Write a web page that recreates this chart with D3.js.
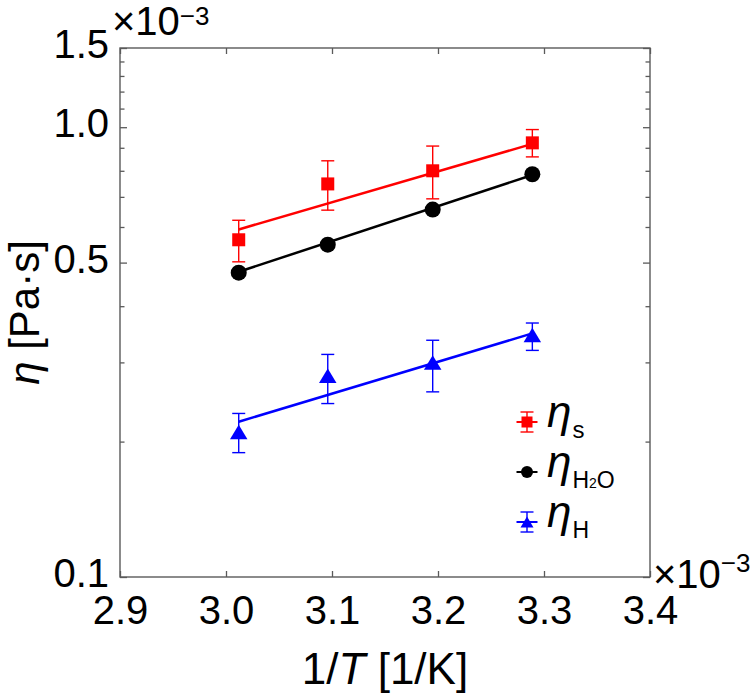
<!DOCTYPE html>
<html><head><meta charset="utf-8">
<script src="https://cdn.jsdelivr.net/npm/d3@7"></script>
<style>body{margin:0;background:#fff} text{font-family:"Liberation Sans",Arial,sans-serif;fill:#000}</style>
</head><body><svg id="c" width="750" height="694"></svg>
<script>
// data (x in 1e-3 1/K, eta in 1e-3 Pa·s)
const invT = [3.012, 3.096, 3.195, 3.289];
const etaS = [0.562, 0.748, 0.800, 0.923];
const etaSLow = [0.502, 0.654, 0.693, 0.859];
const etaSHigh = [0.621, 0.842, 0.908, 0.988];
const etaH2O = [0.475, 0.548, 0.656, 0.786];
const etaH = [0.210, 0.280, 0.300, 0.345];
const etaHLow = [0.189, 0.243, 0.258, 0.319];
const etaHHigh = [0.231, 0.3125, 0.336, 0.367];
const fitX = [3.012, 3.289];
const fitS = [0.5925, 0.918];
const fitH2O = [0.477, 0.783];
const fitH = [0.2214, 0.348];
const xTicks = [2.9, 3.0, 3.1, 3.2, 3.3, 3.4];
const yMajor = [0.1, 0.5, 1.0, 1.5];
const yMinor = [0.2, 0.3, 0.4, 0.6, 0.7, 0.8, 0.9, 1.1, 1.2, 1.3, 1.4];

const L = 120, R = 650, T = 48, B = 577;
const svg = d3.select("#c");
const x = d3.scaleLinear().domain([2.9, 3.4]).range([L, R]);
const y = d3.scaleLog().domain([0.1, 1.5]).range([B, T]);
const frameCol = "#5a5a5a";
const tickFont = 40;

// axes
function styleAxis(g) {
  g.select(".domain").remove();
  g.selectAll(".tick line").attr("stroke", frameCol).attr("stroke-width", 1.3);
  g.selectAll(".tick text").style("font-size", tickFont + "px").attr("fill", "#000");
}
svg.append("g").attr("transform", `translate(0,${B})`)
  .call(d3.axisBottom(x).tickValues(xTicks).tickSize(-6).tickPadding(18.5).tickFormat(d3.format(".1f")))
  .call(styleAxis);
svg.append("g").attr("transform", `translate(0,${T})`)
  .call(d3.axisTop(x).tickValues(xTicks).tickSize(-6).tickFormat(""))
  .call(styleAxis);
const yl = svg.append("g").attr("transform", `translate(${L},0)`)
  .call(d3.axisLeft(y).tickValues(yMajor).tickSize(-7).tickPadding(11).tickFormat(d3.format(".1f")))
  .call(styleAxis);
yl.selectAll(".tick text").attr("dy", "0.24em");
svg.append("g").attr("transform", `translate(${L},0)`)
  .call(d3.axisLeft(y).tickValues(yMinor).tickSize(-4.5).tickFormat(""))
  .call(styleAxis);
svg.append("g").attr("transform", `translate(${R},0)`)
  .call(d3.axisRight(y).tickValues(yMajor).tickSize(-7).tickFormat(""))
  .call(styleAxis);
svg.append("g").attr("transform", `translate(${R},0)`)
  .call(d3.axisRight(y).tickValues(yMinor).tickSize(-4.5).tickFormat(""))
  .call(styleAxis);

svg.append("rect").attr("x", L).attr("y", T).attr("width", R - L).attr("height", B - T)
  .attr("fill", "none").attr("stroke", frameCol).attr("stroke-width", 1.4);

// exponent labels
function expo(xp, yp, dy) {
  const t = svg.append("text").attr("x", xp).attr("y", yp).style("font-size", tickFont + "px");
  t.append("tspan").text("×10");
  t.append("tspan").attr("dy", dy).style("font-size", "26px").text("−3");
}
expo(112, 35, -10);
expo(653, 588, -16);

// axis titles
const xt = svg.append("text").attr("x", (L + R) / 2).attr("y", 684).attr("text-anchor", "middle").style("font-size", "44px");
xt.append("tspan").text("1/");
xt.append("tspan").style("font-style", "italic").text("T");
xt.append("tspan").text(" [1/K]");
const ytl = svg.append("text").attr("transform", `translate(39,${(T + B) / 2}) rotate(-90)`).attr("text-anchor", "middle").style("font-size", "42px");
ytl.append("tspan").style("font-style", "italic").text("η");
ytl.append("tspan").text(" [Pa·s]");

// fit lines
const line = d3.line().x(d => x(d[0])).y(d => y(d[1]));
const fits = [[fitS, "#ff0000"], [fitH2O, "#000000"], [fitH, "#0000ff"]];
fits.forEach(([f, c]) => {
  svg.append("path").attr("d", line(fitX.map((v, i) => [v, f[i]])))
    .attr("fill", "none").attr("stroke", c).attr("stroke-width", 2.5);
});

// error bars
function errBars(lo, hi, col, cap) {
  const g = svg.append("g").attr("stroke", col).attr("stroke-width", 1.4).attr("fill", "none");
  invT.forEach((v, i) => {
    const cx = x(v), y1 = y(lo[i]), y2 = y(hi[i]);
    g.append("line").attr("x1", cx).attr("x2", cx).attr("y1", y1).attr("y2", y2);
    g.append("line").attr("x1", cx - cap / 2).attr("x2", cx + cap / 2).attr("y1", y1).attr("y2", y1);
    g.append("line").attr("x1", cx - cap / 2).attr("x2", cx + cap / 2).attr("y1", y2).attr("y2", y2);
  });
}
errBars(etaSLow, etaSHigh, "#ff0000", 13);
errBars(etaHLow, etaHHigh, "#0000ff", 13);

function tri(w, h) { return `M0,${-h / 2}L${w / 2},${h / 2}L${-w / 2},${h / 2}Z`; }

// markers
svg.append("g").selectAll("rect").data(invT).join("rect")
  .attr("x", (d) => x(d) - 6.5).attr("y", (d, i) => y(etaS[i]) - 6.5)
  .attr("width", 13).attr("height", 13).attr("fill", "#ff0000");
svg.append("g").selectAll("circle").data(invT).join("circle")
  .attr("cx", d => x(d)).attr("cy", (d, i) => y(etaH2O[i])).attr("r", 8).attr("fill", "#000");
svg.append("g").selectAll("path").data(invT).join("path")
  .attr("d", tri(17.5, 14.5))
  .attr("transform", (d, i) => `translate(${x(d)},${y(etaH[i])})`).attr("fill", "#0000ff");

// legend
const legend = [
  { name: "η", sub: [["s", 24]], col: "#ff0000", shape: "square", err: true },
  { name: "η", sub: [["H", 23], ["2", 14], ["O", 23]], col: "#000000", shape: "circle", err: false },
  { name: "η", sub: [["H", 23]], col: "#0000ff", shape: "tri", err: true }
];
const lgY = [422, 472, 522];
legend.forEach((e, i) => {
  const g = svg.append("g").attr("transform", `translate(527,${lgY[i]})`);
  g.append("line").attr("x1", -10.5).attr("x2", 10.5).attr("stroke", e.col).attr("stroke-width", 2);
  if (e.err) {
    const gg = g.append("g").attr("stroke", e.col).attr("stroke-width", 1.4);
    gg.append("line").attr("y1", -10).attr("y2", 10);
    gg.append("line").attr("x1", -6.5).attr("x2", 6.5).attr("y1", -10).attr("y2", -10);
    gg.append("line").attr("x1", -6.5).attr("x2", 6.5).attr("y1", 10).attr("y2", 10);
  }
  if (e.shape === "square") g.append("rect").attr("x", -5.5).attr("y", -5.5).attr("width", 11).attr("height", 11).attr("fill", e.col);
  if (e.shape === "circle") g.append("circle").attr("r", 6).attr("fill", e.col);
  if (e.shape === "tri") g.append("path").attr("d", tri(13, 11)).attr("fill", e.col);
  const t = svg.append("text").attr("x", 547).attr("y", lgY[i] + 5).style("font-size", "44px");
  t.append("tspan").style("font-style", "italic").text(e.name);
  const s = t.append("tspan").attr("dy", 11).attr("dx", 1);
  e.sub.forEach(([txt, fs]) => s.append("tspan").style("font-size", fs + "px").text(txt));
});
</script></body></html>
